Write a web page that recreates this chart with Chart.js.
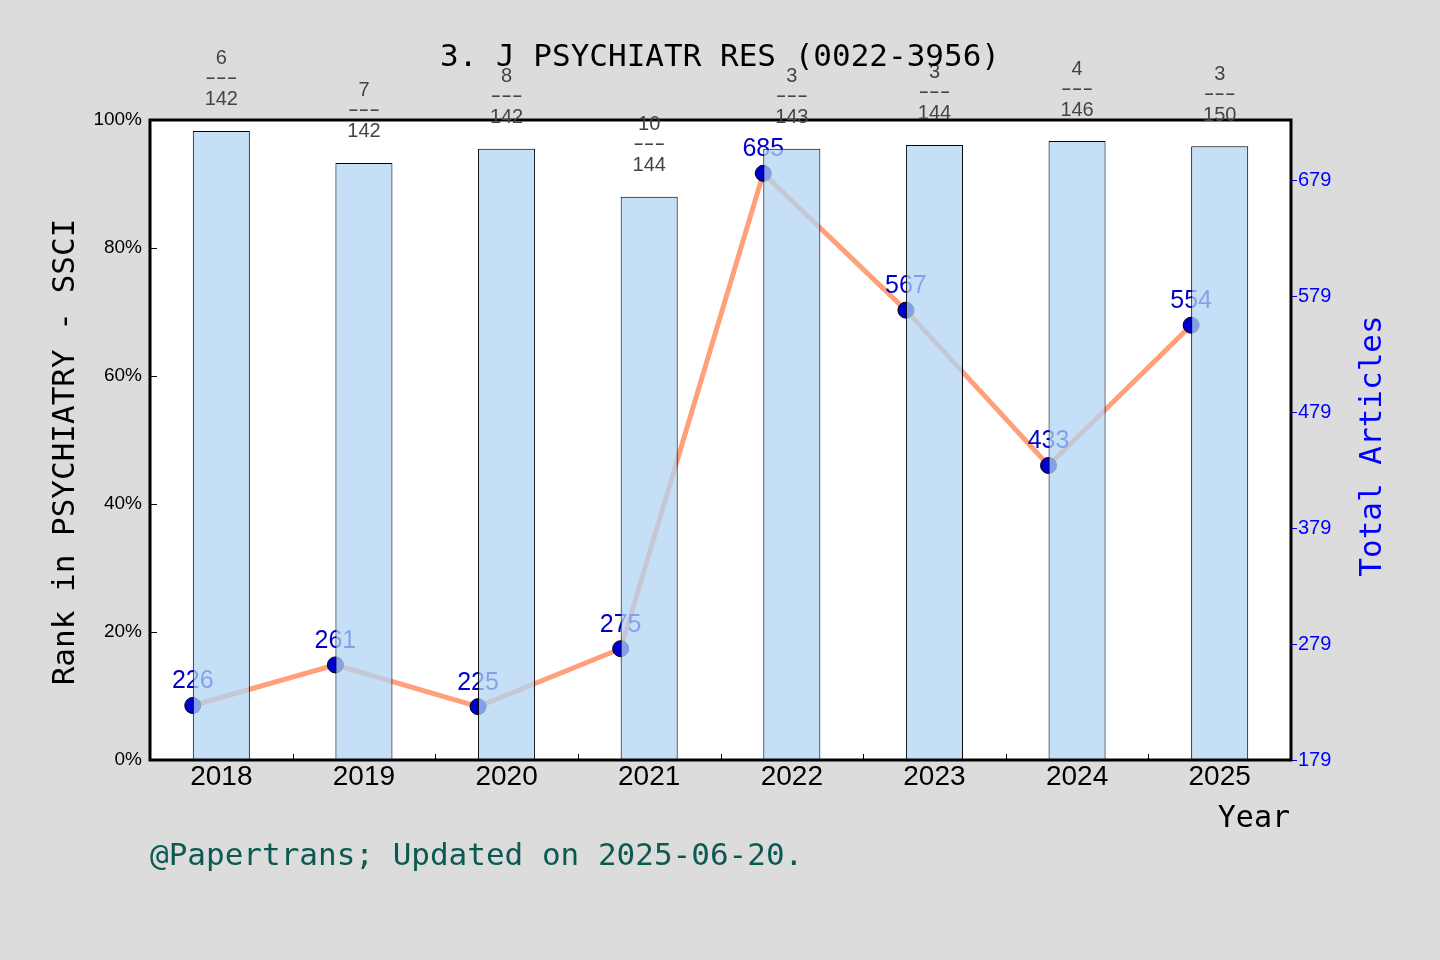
<!DOCTYPE html>
<html>
<head>
<meta charset="utf-8">
<script src="https://cdn.jsdelivr.net/npm/chart.js@4"></script>
<style>
  html, body { margin: 0; padding: 0; background: #dcdcdc; }
  #wrap { width: 1440px; height: 960px; }
</style>
</head>
<body>
<div id="wrap"><canvas id="rank-chart" width="1440" height="960"></canvas></div>
<script>
/* rank bars + total articles line */
var years = ['2018', '2019', '2020', '2021', '2022', '2023', '2024', '2025'];
var rankPct = [98.3, 93.3, 95.5, 88.0, 95.5, 96.1, 96.7, 95.9];
var rankNum = [6, 7, 8, 10, 3, 3, 4, 3];
var rankTotal = [142, 142, 142, 144, 143, 144, 146, 150];
var totalArticles = [226, 261, 225, 275, 685, 567, 433, 554];
var pctTicks = [0, 20, 40, 60, 80, 100];
var articleTicks = [179, 279, 379, 479, 579, 679];

var MONO = '"DejaVu Sans Mono", monospace';
var SANS = '"Liberation Sans", Arial, sans-serif';

function drawText(ctx, s, x, y, font, color, align, rotate, scaleX) {
	ctx.save();
	ctx.translate(x, y);
	if (rotate) ctx.rotate(-Math.PI / 2);
	if (scaleX) ctx.scale(scaleX, 1);
	ctx.font = font;
	ctx.fillStyle = color;
	ctx.textAlign = align || 'center';
	ctx.textBaseline = 'middle';
	ctx.fillText(s, 0, 0);
	ctx.restore();
}

var decor = {
	id: 'decor',
	beforeDraw: function(chart) {
		var ctx = chart.ctx, a = chart.chartArea;
		ctx.save();
		ctx.fillStyle = '#dcdcdc';
		ctx.fillRect(0, 0, chart.width, chart.height);
		ctx.fillStyle = '#ffffff';
		ctx.fillRect(a.left, a.top, a.right - a.left, a.bottom - a.top);
		ctx.restore();
	},
	afterDatasetDraw: function(chart, args) {
		// number labels of the line, drawn before the bars so the bars cover them
		if (args.index !== 1) return;
		var ctx = chart.ctx;
		var pts = chart.getDatasetMeta(1).data;
		pts.forEach(function(p, i) {
			drawText(ctx, String(totalArticles[i]), p.x, p.y - 24, '25px ' + SANS, '#0000cd');
		});
	},
	afterDatasetsDraw: function(chart) {
		var ctx = chart.ctx, a = chart.chartArea;
		var sx = chart.scales.x, sy = chart.scales.y;

		// inward ticks
		ctx.save();
		ctx.strokeStyle = '#000';
		ctx.lineWidth = 1;
		ctx.beginPath();
		pctTicks.forEach(function(v) {
			var y = Math.round(sy.getPixelForValue(v)) + 0.5;
			ctx.moveTo(a.left, y);
			ctx.lineTo(a.left + 7, y);
		});
		for (var k = 1; k < years.length; k++) {
			var x = Math.round(sx.getPixelForValue(k - 0.5)) + 0.5;
			ctx.moveTo(x, a.bottom);
			ctx.lineTo(x, a.bottom - 6);
		}
		ctx.stroke();

		// frame
		ctx.lineWidth = 3;
		ctx.strokeRect(a.left, a.top, a.right - a.left, a.bottom - a.top);
		ctx.restore();

		// rank fractions above bars
		var bars = chart.getDatasetMeta(0).data;
		bars.forEach(function(b, i) {
			var f = '20px ' + SANS;
			drawText(ctx, String(rankNum[i]), b.x, b.y - 72, f, '#444');
			drawText(ctx, '---', b.x, b.y - 52, f, '#444', 'center', false, 1.6);
			drawText(ctx, String(rankTotal[i]), b.x, b.y - 31, f, '#444');
		});

		// titles
		drawText(ctx, '3. J PSYCHIATR RES (0022-3956)', 720, 58, '31px ' + MONO, '#000');
		drawText(ctx, 'Rank in PSYCHIATRY - SSCI', 66, 452, '31px ' + MONO, '#000', 'center', true);
		drawText(ctx, 'Total Articles', 1373, 446, '31px ' + MONO, '#0000ff', 'center', true);
		drawText(ctx, 'Year', 1290, 819, '30px ' + MONO, '#000', 'right');
		drawText(ctx, '@Papertrans; Updated on 2025-06-20.', 150, 857, '31px ' + MONO, '#0b5a52', 'left');
	}
};

var config = {
	type: 'bar',
	data: {
		labels: years,
		datasets: [{
			type: 'bar',
			label: 'Rank',
			data: rankPct,
			xAxisID: 'x',
			yAxisID: 'y',
			backgroundColor: 'rgba(178,214,243,0.75)',
			borderColor: '#000',
			borderWidth: 1,
			borderSkipped: false,
			grouped: false,
			barPercentage: 0.4,
			categoryPercentage: 1.0,
			order: 0
		}, {
			type: 'line',
			label: 'Total Articles',
			data: totalArticles.map(function(v, i) { return {x: i - 0.2, y: v}; }),
			xAxisID: 'x2',
			yAxisID: 'y2',
			borderColor: '#ffa07a',
			borderWidth: 5,
			pointRadius: 8,
			pointBackgroundColor: '#0000cd',
			pointBorderColor: '#000',
			pointBorderWidth: 1,
			tension: 0,
			order: 1
		}]
	},
	options: {
		responsive: false,
		animation: false,
		devicePixelRatio: 1,
		layout: { padding: { left: 0, right: 0, top: 120, bottom: 160 } },
		plugins: {
			legend: { display: false },
			title: { display: false },
			tooltip: { enabled: false }
		},
		scales: {
			x: {
				type: 'category',
				offset: true,
				grid: { display: false, drawTicks: false },
				border: { display: false },
				ticks: { color: '#000', font: { family: SANS, size: 28 }, padding: 0, maxRotation: 0 },
				afterFit: function(s) { s.height = 40; }
			},
			x2: {
				type: 'linear',
				display: false,
				offset: false,
				grid: { offset: false },
				min: -0.5,
				max: 7.5
			},
			y: {
				position: 'left',
				min: 0,
				max: 100,
				grid: { display: false, drawTicks: false },
				border: { display: false },
				ticks: {
					stepSize: 20,
					color: '#000',
					padding: 8,
					font: { family: SANS, size: 19 },
					callback: function(v) { return v + '%'; }
				},
				afterFit: function(s) { s.width = 150; }
			},
			y2: {
				position: 'right',
				min: 179,
				max: 731,
				grid: { drawOnChartArea: false, drawTicks: true, tickLength: 6, color: '#0000ff' },
				border: { display: false },
				ticks: { color: '#0000ff', padding: 1, font: { family: SANS, size: 20 } },
				afterBuildTicks: function(s) {
					s.ticks = articleTicks.map(function(v) { return {value: v}; });
				},
				afterFit: function(s) { s.width = 149; }
			}
		}
	},
	plugins: [decor]
};

var ctx = document.getElementById('rank-chart').getContext('2d');
window.rankChart = new Chart(ctx, config);
</script>
</body>
</html>
